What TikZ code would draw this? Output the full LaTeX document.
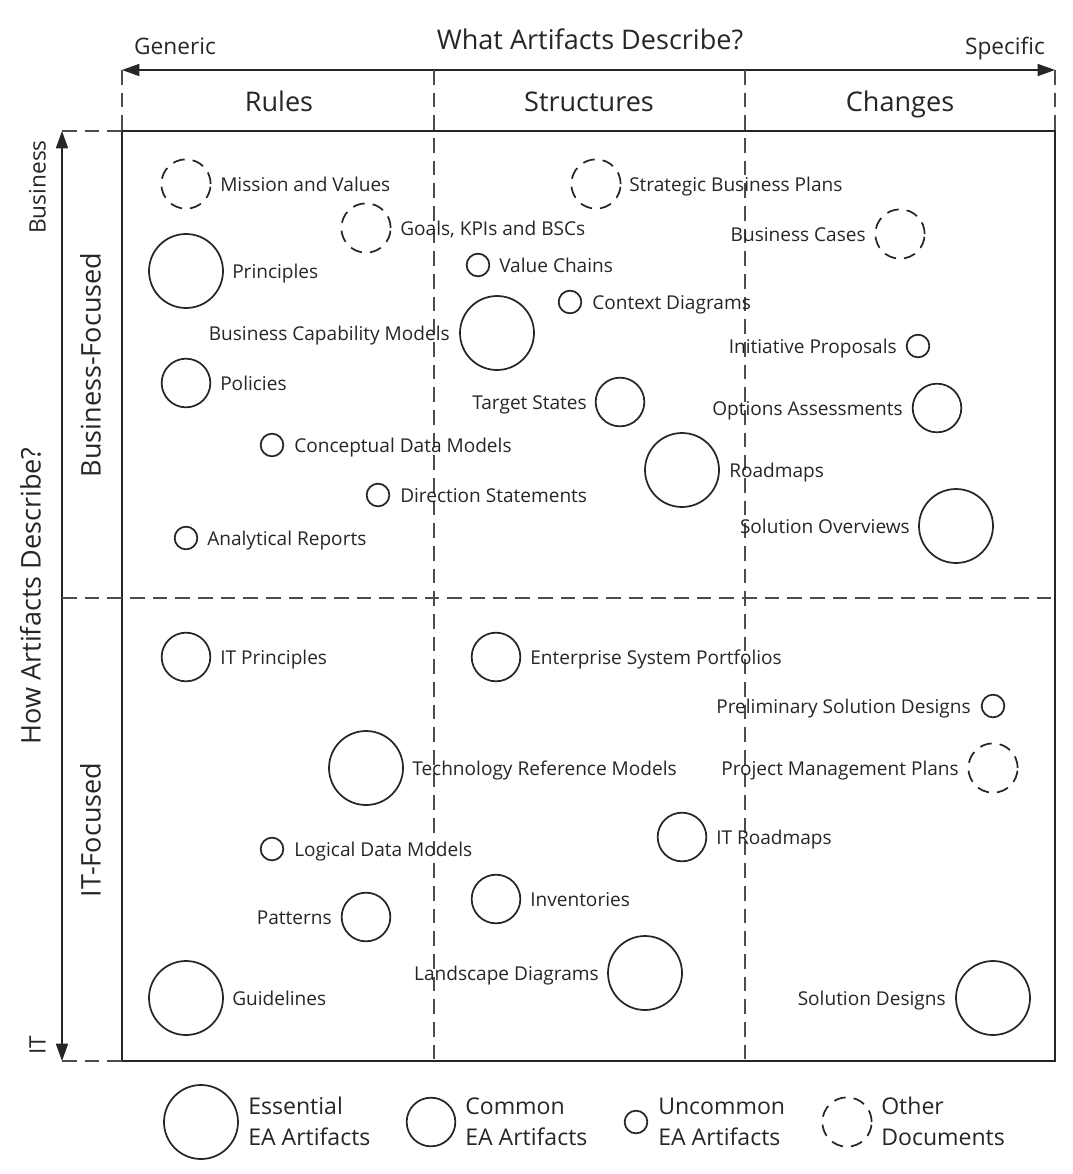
\documentclass[tikz,border=0pt]{standalone}
\usepackage{fontspec}
\setmainfont{Open Sans}
\usetikzlibrary{arrows.meta}
\tikzset{
  ln/.style={line width=1.3pt, draw=black!85},
  dsh/.style={line width=1pt, draw=black!70, dash pattern=on 11pt off 6pt},
  ess/.style={circle, ln, inner sep=0pt, minimum size=55.5pt},
  com/.style={circle, ln, inner sep=0pt, minimum size=36.5pt},
  unc/.style={circle, ln, inner sep=0pt, minimum size=17pt},
  oth/.style={circle, line width=1.3pt, draw=black!85, dash pattern=on 9pt off 6pt, inner sep=0pt, minimum size=37pt},
  lbl/.style={font=\fontsize{14.3}{16}\selectfont, inner sep=0pt, text=black!85, yshift=-2.6pt},
  lw/.style={lbl, anchor=mid west},
  le/.style={lbl, anchor=mid east},
  hdr/.style={font=\fontsize{20.3}{22}\selectfont, inner sep=0pt, text=black!85, anchor=mid},
  axl/.style={font=\fontsize{17}{18}\selectfont, inner sep=0pt, text=black!85, anchor=mid},
  leg/.style={font=\fontsize{17.3}{18}\selectfont, inner sep=0pt, text=black!85, anchor=mid west, yshift=-3pt},
  biarrow/.style={{Triangle[length=13pt,width=9pt]}-{Triangle[length=13pt,width=9pt]}},
}
\begin{document}
\begin{tikzpicture}[x=0.75pt,y=-0.75pt]
\useasboundingbox (0,0) rectangle (1072,1174);
% coordinates
\coordinate (tl) at (122,70);
\coordinate (tr) at (1055,70);
\coordinate (bl) at (62,131);
\coordinate (br) at (62,1061);
% axes
\draw[ln, biarrow] (tl) -- (tr);
\draw[ln, biarrow] (bl) -- (br);
% frame
\draw[ln] (122,131) rectangle (1055,1061);
% dashed guides
\draw[dsh] (122,70) -- (122,131);
\draw[dsh] (1055,70) -- (1055,131);
\draw[dsh] (434,70) -- (434,1061);
\draw[dsh] (745,70) -- (745,1061);
\draw[dsh] (62,131) -- (122,131);
\draw[dsh] (62,1061) -- (122,1061);
\draw[dsh] (62,598) -- (1055,598);
% titles
\node[hdr] (what) at (590,46) {What Artifacts Describe?};
\node[axl] (generic) at (175,51) {Generic};
\node[axl] (specific) at (1005,51) {Specific};
\node[hdr] (rules) at (279,108) {Rules};
\node[hdr] (structures) at (589,108) {Structures};
\node[hdr] (changes) at (900,108) {Changes};
\node[hdr, rotate=90] (how) at (37,596) {How Artifacts Describe?};
\node[axl, rotate=90] (business) at (42,187) {Business};
\node[axl, rotate=90] (it) at (42,1045) {IT};
\node[hdr, rotate=90] (bfoc) at (97,365) {Business-Focused};
\node[hdr, rotate=90] (itfoc) at (97,830) {IT-Focused};
% upper half
\node[oth] (c1) at (186,184) {}; \node[lw] (t1) at (220,184) {Mission and Values};
\node[oth] (c2) at (366,228) {}; \node[lw] (t2) at (400,228) {Goals, KPIs and BSCs};
\node[ess] (c3) at (186,271) {}; \node[lw] (t3) at (232,271) {Principles};
\node[ess] (c4) at (497,333) {}; \node[le] (t4) at (450,333) {Business Capability Models};
\node[com] (c5) at (186,383) {}; \node[lw] (t5) at (220,383) {Policies};
\node[unc] (c6) at (478,265) {}; \node[lw] (t6) at (499,265) {Value Chains};
\node[unc] (c7) at (570,302) {}; \node[lw] (t7) at (592,302) {Context Diagrams};
\node[oth] (c8) at (596,184) {}; \node[lw] (t8) at (629,184) {Strategic Business Plans};
\node[oth] (c9) at (900,234) {}; \node[le] (t9) at (866,234) {Business Cases};
\node[unc] (c10) at (918,346) {}; \node[le] (t10) at (897,346) {Initiative Proposals};
\node[com] (c11) at (620,402) {}; \node[le] (t11) at (587,402) {Target States};
\node[com] (c12) at (937,408) {}; \node[le] (t12) at (903,408) {Options Assessments};
\node[ess] (c13) at (682,470) {}; \node[lw] (t13) at (729,470) {Roadmaps};
\node[unc] (c14) at (272,445) {}; \node[lw] (t14) at (294,445) {Conceptual Data Models};
\node[unc] (c15) at (378,495) {}; \node[lw] (t15) at (400,495) {Direction Statements};
\node[unc] (c16) at (186,538) {}; \node[lw] (t16) at (207,538) {Analytical Reports};
\node[ess] (c17) at (956,526) {}; \node[le] (t17) at (910,526) {Solution Overviews};
% lower half
\node[com] (d1) at (186,657) {}; \node[lw] (u1) at (220,657) {IT Principles};
\node[com] (d2) at (496,657) {}; \node[lw] (u2) at (530,657) {Enterprise System Portfolios};
\node[unc] (d3) at (993,706) {}; \node[le] (u3) at (971,706) {Preliminary Solution Designs};
\node[ess] (d4) at (366,768) {}; \node[lw] (u4) at (412,768) {Technology Reference Models};
\node[oth] (d5) at (993,768) {}; \node[le] (u5) at (959,768) {Project Management Plans};
\node[com] (d6) at (682,837) {}; \node[lw] (u6) at (716,837) {IT Roadmaps};
\node[unc] (d7) at (272,849) {}; \node[lw] (u7) at (294,849) {Logical Data Models};
\node[com] (d8) at (496,899) {}; \node[lw] (u8) at (530,899) {Inventories};
\node[com] (d9) at (366,917) {}; \node[le] (u9) at (332,917) {Patterns};
\node[ess] (d10) at (645,973) {}; \node[le] (u10) at (599,973) {Landscape Diagrams};
\node[ess] (d11) at (186,998) {}; \node[lw] (u11) at (232,998) {Guidelines};
\node[ess] (d12) at (993,998) {}; \node[le] (u12) at (946,998) {Solution Designs};
% legend
\node[ess] (g1) at (201,1122) {};
\node[leg] (h1a) at (248,1107) {Essential};
\node[leg] (h1b) at (248,1138) {EA Artifacts};
\node[com] (g2) at (431,1122) {};
\node[leg] (h2a) at (465,1107) {Common};
\node[leg] (h2b) at (465,1138) {EA Artifacts};
\node[unc] (g3) at (636,1122) {};
\node[leg] (h3a) at (658,1107) {Uncommon};
\node[leg] (h3b) at (658,1138) {EA Artifacts};
\node[oth] (g4) at (847,1122) {};
\node[leg] (h4a) at (881,1107) {Other};
\node[leg] (h4b) at (881,1138) {Documents};
\end{tikzpicture}
\end{document}
